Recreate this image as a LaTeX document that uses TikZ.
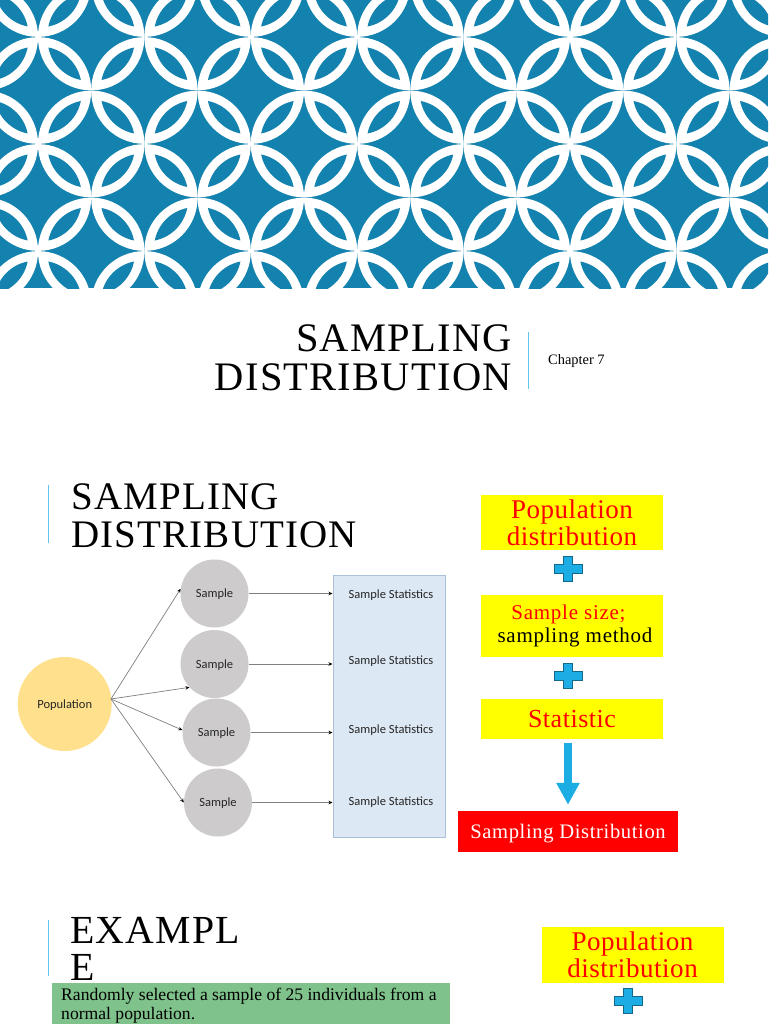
\documentclass[tikz,border=0pt]{standalone}
\usepackage{fontspec}
\setmainfont{Liberation Serif}
\newfontfamily\spaced[LetterSpace=3]{Liberation Serif}
\newfontfamily\spacedb[LetterSpace=2]{Liberation Serif}
\newfontfamily\spacedc[LetterSpace=3.5]{Liberation Serif}
\newfontfamily\carl{Carlito}
\usetikzlibrary{calc,arrows.meta}
\definecolor{pat}{HTML}{1482AE}
\definecolor{acc}{HTML}{1CADE4}
\definecolor{yel}{HTML}{FFFF00}
\definecolor{popc}{HTML}{FFE08C}
\definecolor{samc}{HTML}{CDCBCB}
\definecolor{statc}{HTML}{DDE8F5}
\definecolor{statl}{HTML}{A9C0D6}
\definecolor{grn}{HTML}{80C28B}
\newcommand{\fsz}[1]{\fontsize{#1}{#1}\selectfont}
\newcommand{\lens}[3]{%
  \begin{scope}[shift={(#1,#2)},rotate=#3]
    \fill[white] (-37.7,0) arc[start angle=135,delta angle=-90,radius=53.3] arc[start angle=-45,delta angle=-90,radius=53.3] -- cycle;
    \fill[pat] (-23,0) arc[start angle=123.8,delta angle=-67.6,radius=41.3] arc[start angle=-56.2,delta angle=-67.6,radius=41.3] -- cycle;
  \end{scope}
}
\newcommand{\plusmark}[2]{%
  \draw[plusline] (#1,#2) ++(-4.5,-12.5) -- ++(9,0) -- ++(0,8) -- ++(9.5,0) -- ++(0,9) -- ++(-9.5,0) -- ++(0,8) -- ++(-9,0) -- ++(0,-8) -- ++(-9.5,0) -- ++(0,-9) -- ++(9.5,0) -- cycle;
}
\tikzset{
  x=1pt,y=-1pt,
  plusline/.style={fill=acc,draw=acc!60!black,line width=0.9pt},
  ybox/.style={fill=yel,inner sep=0pt,text=red,align=center,minimum width=182pt},
  heading/.style={inner sep=0pt,anchor=west,align=left,text=black,font=\spaced\fsz{39}},
  sep/.style={draw=acc!70,line width=0.8pt},
  popn/.style={circle,fill=popc,minimum size=94pt,inner sep=0pt,text depth=0pt,font=\carl\fsz{12.5},text=black!85},
  samp/.style={circle,fill=samc,minimum size=68pt,inner sep=0pt,text depth=0pt,font=\carl\fsz{12.5},text=black!85},
  stat/.style={inner sep=0pt,font=\carl\fsz{12.5},text=black!85},
  link/.style={draw=black!50,line width=0.7pt,-{Stealth[length=4pt,width=3.5pt,color=black]}},
  bigarrow/.style={draw=acc,line width=8pt,-{Triangle[length=22pt,width=22pt]}}
}
\begin{document}
\begin{tikzpicture}
\useasboundingbox (0,0) rectangle (768,1024);
\fill[white] (0,0) rectangle (768,1024);
\begin{scope}
\clip (0,0) rectangle (768,288);
\fill[pat] (0,0) rectangle (768,288);
\foreach \i in {-1,...,7}{
 \foreach \j in {-1,...,3}{
  \pgfmathsetmacro{\ax}{38+106.4*\i}
  \pgfmathsetmacro{\ay}{37+107*\j}
  \pgfmathsetmacro{\xl}{\ax+26.6}
  \pgfmathsetmacro{\xr}{\ax+79.8}
  \pgfmathsetmacro{\yt}{\ay+26.75}
  \pgfmathsetmacro{\yb}{\ay+80.25}
  \lens{\xl}{\yt}{-45}
  \lens{\xr}{\yt}{45}
  \lens{\xl}{\yb}{45}
  \lens{\xr}{\yb}{-45}
 }
}
\end{scope}

% title
\node[inner sep=0pt,anchor=east,align=right,font=\spaced\fsz{40.5}] (title) at (512,357.5) {SAMPLING\\[-1.5pt]DISTRIBUTION};
\draw[sep] (528,332) -- (528,389);
\node[inner sep=0pt,anchor=west,font=\fsz{14.4}] (chap) at (548,361.5) {Chapter 7};

% second heading
\draw[sep] (48,485) -- (48,543);
\node[heading] (h2) at (71,515.5) {SAMPLING\\[-1pt]DISTRIBUTION};

% diagram
\node[popn] (pop) at (64.7,704) {Population};
\node[samp] (s1) at (214.5,593.5) {Sample};
\node[samp] (s2) at (214.5,664) {Sample};
\node[samp] (s3) at (216.5,732.5) {Sample};
\node[samp] (s4) at (218,802.5) {Sample};
\node[draw=statl,fill=statc,line width=1pt,minimum width=112pt,minimum height=262pt,inner sep=0pt] (box) at (389,706) {};
\node[stat] (t1) at (391,595) {Sample Statistics};
\node[stat] (t2) at (391,661) {Sample Statistics};
\node[stat] (t3) at (391,730.5) {Sample Statistics};
\node[stat] (t4) at (391,802.5) {Sample Statistics};
\coordinate (hub) at (111,699);
\draw[link] (hub) -- (s1.172);
\draw[link] (hub) -- (s2.223);
\draw[link] (hub) -- (s3.176);
\draw[link] (hub) -- (s4.180);
\foreach \n in {1,2,3,4}{
  \draw[link] (s\n.east) -- (s\n.east -| box.west);
}

% right column
\node[ybox,minimum height=55pt,font=\spacedb\fsz{27}] (y1) at (572,522.5) {Population\\distribution};
\node[ybox,minimum height=62pt] (y2) at (572,626) {{\spacedc\fsz{21}Sample size;\hspace*{7pt}}\\[3pt]{\spacedc\fsz{21}\textcolor{black}{~sampling method}}};
\node[ybox,minimum height=40pt,font=\spacedb\fsz{26}] (y3) at (572,719) {Statistic};
\node[fill=red,text=white,inner sep=0pt,minimum width=220pt,minimum height=41pt,font=\spaced\fsz{20.6},text depth=0pt] (y4) at (568,831.5) {Sampling Distribution};
\plusmark{568}{568.5}
\plusmark{568}{675.5}
\draw[bigarrow,shorten <=4pt,shorten >=6pt] (y3.south -| y4.north) -- (y4.north);

% example
\draw[sep] (48,920) -- (48,976);
\node[inner sep=0pt,anchor=west,align=left,text=black,font=\spaced\fsz{39.8}] (h3) at (70,949) {EXAMPL\\[-3pt]E};
\begin{scope}
\clip (0,900) rectangle (768,1024);
\node[fill=grn,inner sep=0pt,minimum width=398pt,minimum height=50pt] (g) at (251,1008) {};
\node[inner sep=0pt,anchor=north west,align=left,font=\fsz{17.6}] (gt) at (61,988) {Randomly selected a sample of 25 individuals from a\\[1.5pt]normal population.};
\end{scope}
\node[ybox,minimum height=56pt,font=\spacedb\fsz{27}] (y5) at (632.5,955) {Population\\distribution};
\plusmark{628}{1001}
\end{tikzpicture}
\end{document}
